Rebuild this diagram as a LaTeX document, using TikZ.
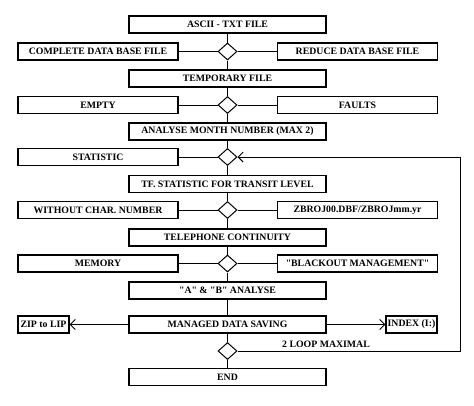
\documentclass[tikz,border=0pt]{standalone}
\usepackage{fontspec}
\setmainfont{Liberation Serif}
\usepackage{tikz}
\usetikzlibrary{positioning,calc,arrows.meta,shapes.geometric}

\newcommand\flowfont{\fontsize{9.8}{11}\selectfont\bfseries}

\begin{document}
\begin{tikzpicture}[
    x=1pt, y=-1pt,
    box/.style={draw, line width=1.3pt, minimum height=17pt, inner sep=0pt, font=\flowfont},
    mainbox/.style={box, minimum width=197pt},
    sidebox/.style={box, minimum width=160pt},
    smallbox/.style={box, minimum width=51pt},
    decide/.style={draw, diamond, line width=1pt, minimum width=19pt, minimum height=17pt, inner sep=0pt},
    link/.style={line width=0.9pt},
    flow/.style={link, -{Straight Barb[length=5pt, width=10pt]}},
]
\useasboundingbox (0,0) rectangle (474,405);

% Main column
\node[mainbox] (ascii)   at (227.5, 24.5)  {ASCII - TXT FILE};
\node[mainbox] (temp)    at (227.5, 78.5)  {TEMPORARY FILE};
\node[mainbox] (month)   at (227.5, 131.5) {ANALYSE MONTH NUMBER (MAX 2)};
\node[mainbox] (transit) at (227.5, 184)   {TF. STATISTIC FOR TRANSIT LEVEL};
\node[mainbox] (phone)   at (227.5, 237.5) {TELEPHONE CONTINUITY};
\node[mainbox] (ab)      at (227.5, 290.5) {\textquotedbl A\textquotedbl{} \& \textquotedbl B\textquotedbl{} ANALYSE};
\node[mainbox] (saving)  at (227.5, 324.5) {MANAGED DATA SAVING};
\node[mainbox] (end)     at (227.5, 377)   {END};

% Decisions
\node[decide] (dbase)  at (227.5, 51.5)  {};
\node[decide] (dfault) at (227.5, 105)   {};
\node[decide] (dstat)  at (227.5, 157)   {};
\node[decide] (dchar)  at (227.5, 210)   {};
\node[decide] (dmem)   at (227.5, 263.5) {};
\node[decide] (dloop)  at (227.5, 351)   {};

% Side boxes
\node[sidebox] (complete) at (98, 51.5)    {COMPLETE DATA BASE FILE};
\node[sidebox] (reduce)   at (357.5, 51.5) {REDUCE DATA BASE FILE};
\node[sidebox] (empty)    at (98, 105)     {EMPTY};
\node[sidebox] (faults)   at (357.5, 105)  {FAULTS};
\node[sidebox] (stat)     at (98, 157)     {STATISTIC};
\node[sidebox] (nochar)   at (98, 210)     {WITHOUT CHAR. NUMBER};
\node[sidebox] (zbroj)    at (357.5, 210)  {ZBROJ00.DBF/ZBROJmm.yr};
\node[sidebox] (memory)   at (98, 263.5)   {MEMORY};
\node[sidebox] (blackout) at (357.5, 263.5) {\textquotedbl BLACKOUT MANAGEMENT\textquotedbl};
\node[smallbox] (zip)     at (43.5, 324.5)  {ZIP to LIP};
\node[smallbox] (index)   at (411.5, 324.5) {INDEX (I:)};

% Vertical links
\foreach \a/\b in {ascii/dbase, dbase/temp, temp/dfault, dfault/month, month/dstat,
                   dstat/transit, transit/dchar, dchar/phone, phone/dmem, dmem/ab,
                   ab/saving, saving/dloop, dloop/end}
    \draw[link] (\a) -- (\b);

% Horizontal links
\foreach \d/\s in {dbase/complete, dbase/reduce, dfault/empty, dfault/faults, dstat/stat,
                   dchar/nochar, dchar/zbroj, dmem/memory, dmem/blackout}
    \draw[link] (\d) -- (\s);

% Saving outputs
\draw[flow] (saving) -- (zip);
\draw[flow] (saving) -- (index);

% Loop back
\coordinate (loopbot) at (460, 351);
\coordinate (looptop) at (460, 157);
\draw[flow] (dloop.east) -- (loopbot) -- (looptop) -- (dstat.east);
\node[font=\flowfont, anchor=south west, inner sep=1pt] (maxloop) at (281, 349) {2 LOOP MAXIMAL};
\end{tikzpicture}
\end{document}
